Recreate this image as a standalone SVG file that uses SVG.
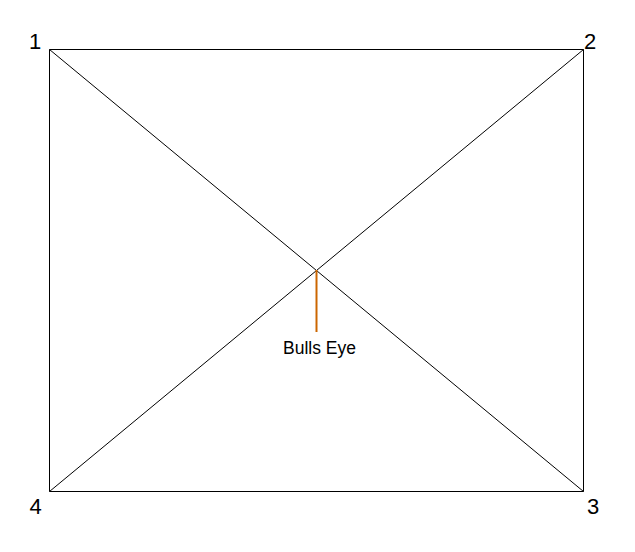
<svg xmlns="http://www.w3.org/2000/svg" width="635" height="552" viewBox="0 0 635 552">
<style>
.edge{stroke:#000;stroke-width:1;fill:none}
.num{font-family:"Liberation Sans",Arial,sans-serif;font-size:22px;fill:#000}
.lbl{font-family:"Liberation Sans",Arial,sans-serif;font-size:17.5px;fill:#000}
</style>
<rect width="635" height="552" fill="#fff"/>
<g id="connectors">
<line class="edge" x1="49.5" y1="49.5" x2="583.5" y2="49.5"/>
<line class="edge" x1="583.5" y1="49.5" x2="583.5" y2="491.5"/>
<line class="edge" x1="583.5" y1="491.5" x2="49.5" y2="491.5"/>
<line class="edge" x1="49.5" y1="491.5" x2="49.5" y2="49.5"/>
<line class="edge" x1="49.5" y1="49.5" x2="583.5" y2="491.5"/>
<line class="edge" x1="583.5" y1="49.5" x2="49.5" y2="491.5"/>
<line x1="316.5" y1="270" x2="316.5" y2="332" stroke="#cc6600" stroke-width="2"/>
</g>
<g id="node1"><text class="num" x="29" y="48.5">1</text></g>
<g id="node2"><text class="num" x="584" y="48.5">2</text></g>
<g id="node3"><text class="num" x="587" y="513.5">3</text></g>
<g id="node4"><text class="num" x="29.5" y="513.5">4</text></g>
<g id="bullseye"><text class="lbl" x="319.5" y="354" text-anchor="middle">Bulls Eye</text></g>
</svg>
